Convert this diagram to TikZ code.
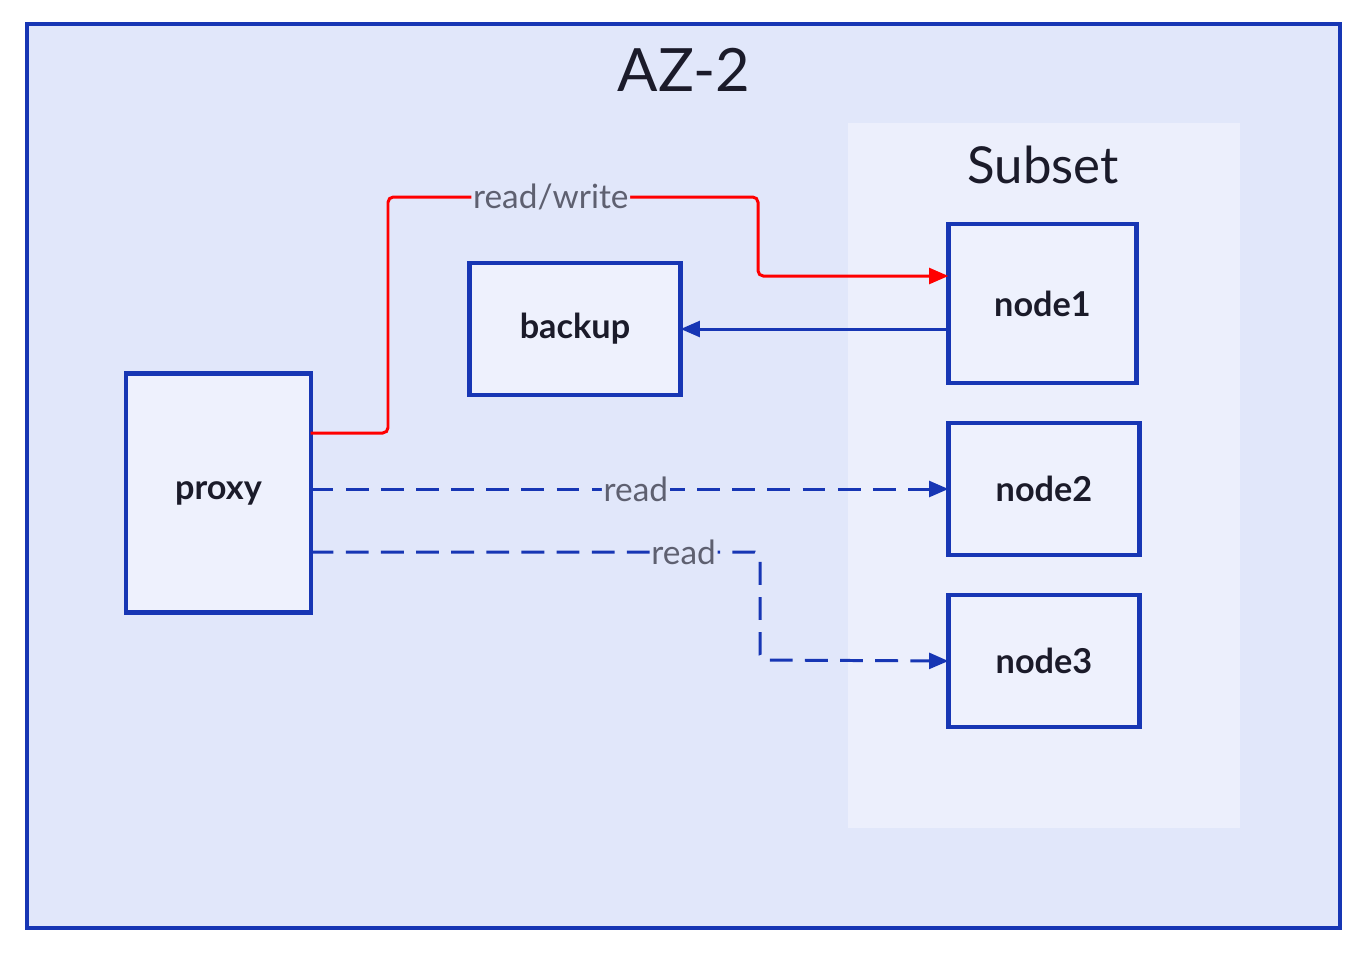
\documentclass[tikz,border=0pt]{standalone}
\usepackage{fontspec}
\setmainfont{Lato}
\usetikzlibrary{arrows.meta}
\definecolor{azfill}{HTML}{E1E7FA}
\definecolor{subfill}{HTML}{ECEFFC}
\definecolor{boxfill}{HTML}{EEF1FD}
\definecolor{azblue}{HTML}{1736B4}
\definecolor{lblgray}{HTML}{5E6070}
\definecolor{ink}{HTML}{1B1B2A}
\tikzset{
  box/.style={draw=azblue, line width=2.4pt, fill=boxfill, inner sep=0pt, outer sep=0pt,
    font=\fontsize{19.5}{23}\selectfont\bfseries, text=ink},
  conn/.style={line width=1.7pt, rounded corners=3pt},
  tip/.style={-{Triangle[length=11pt,width=9pt]}},
  lbl/.style={fill=azfill, inner sep=1pt, text=lblgray, font=\fontsize{19}{22}\selectfont},
  dsh/.style={dash pattern=on 13pt off 7pt},
  title/.style={text=ink, font=\fontsize{29}{33}\selectfont}
}
\begin{document}
\begin{tikzpicture}[x=0.02cm, y=-0.02cm]
\useasboundingbox (0,0) rectangle (1368,954);
\fill[white] (0,0) rectangle (1368,954);
% outer zone
\draw[draw=azblue, line width=2.2pt, fill=azfill] (27,24) rectangle (1340,928);
\node[title, font=\fontsize{34}{38}\selectfont] (az) at (684,70) {AZ-2};
% subset area
\fill[subfill] (848,123) rectangle (1240,828);
\node[title] (subset) at (1043,165) {Subset};
% boxes
\node[box, minimum width=107.1pt, minimum height=90.1pt] (node1) at (1042.5,303.5) {node1};
\node[box, minimum width=108.8pt, minimum height=74.8pt] (node2) at (1044,489) {node2};
\node[box, minimum width=108.8pt, minimum height=74.8pt] (node3) at (1044,661) {node3};
\node[box, minimum width=120.2pt, minimum height=74.8pt] (backup) at (575,329) {backup};
\node[box, minimum width=104.9pt, minimum height=136.1pt] (proxy) at (218.5,493) {proxy};
% bends
\coordinate (r1) at (388,433);
\coordinate (r2) at (388,197);
\coordinate (r3) at (758,197);
\coordinate (r4) at (758,276);
\coordinate (d1) at (760,552);
\coordinate (d2) at (760,660);
% connectors
\draw[conn, red, tip] (proxy.east |- r1) -- (r1) -- (r2) -- node[lbl, pos=0.44] {read/write} (r3) -- (r4) -- (node1.west |- r4);
\draw[conn, azblue, tip] (node1.west |- backup.east) -- (backup.east);
\draw[conn, azblue, dsh, tip] (proxy.east |- node2.west) -- node[lbl, pos=0.51] {read} (node2.west);
\draw[conn, azblue, dsh, tip] (proxy.east |- d1) -- node[lbl, pos=0.83] {read} (d1) -- (d2) -- (node3.west);
\end{tikzpicture}
\end{document}
